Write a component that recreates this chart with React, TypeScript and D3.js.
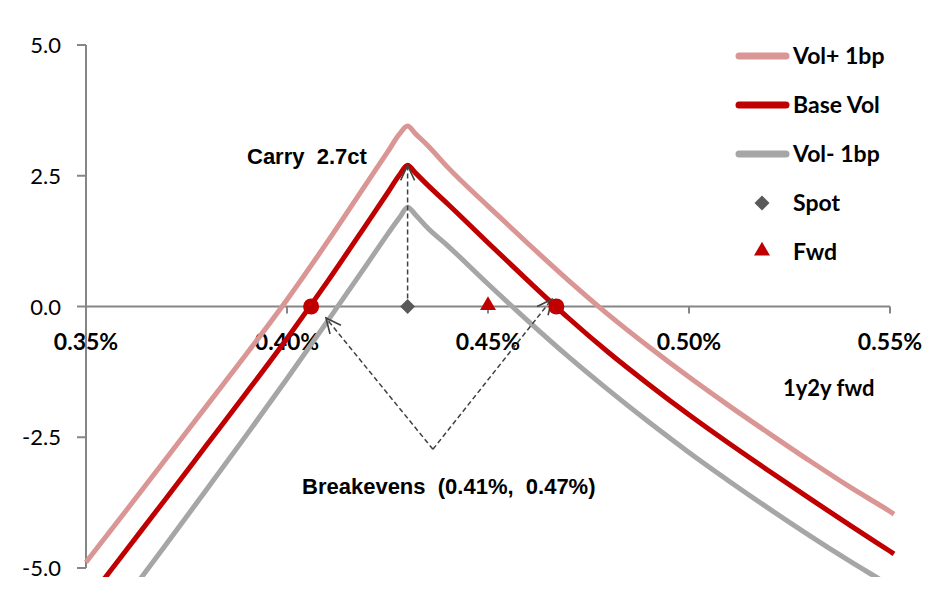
import * as d3 from "d3"

// x values (% rate, 1y2y fwd) shared by the three P&L curves
const rates = [0.35, 0.36, 0.37, 0.38, 0.39, 0.4, 0.41, 0.42, 0.425, 0.428, 0.43, 0.432, 0.435, 0.44, 0.45, 0.46, 0.47, 0.48, 0.49, 0.5, 0.51, 0.52, 0.53, 0.54, 0.55, 0.551]
const volUp = [-4.89, -3.9, -2.9, -1.9, -0.9, 0.13, 1.23, 2.38, 2.95, 3.3, 3.45, 3.3, 3.08, 2.66, 1.92, 1.2, 0.5, -0.16, -0.77, -1.35, -1.9, -2.43, -2.95, -3.45, -3.92, -3.97]
const baseVol = [-5.66, -4.66, -3.66, -2.65, -1.64, -0.61, 0.47, 1.6, 2.17, 2.52, 2.7, 2.55, 2.32, 1.96, 1.22, 0.49, -0.22, -0.88, -1.49, -2.07, -2.62, -3.15, -3.67, -4.18, -4.68, -4.73]
const volDown = [-6.6, -5.57, -4.54, -3.5, -2.45, -1.38, -0.29, 0.82, 1.38, 1.7, 1.9, 1.75, 1.5, 1.16, 0.43, -0.28, -0.96, -1.6, -2.21, -2.79, -3.34, -3.87, -4.38, -4.87, -5.34, -5.39]

const spotRate = 0.43
const fwdRate = 0.45
const breakevens = [0.406, 0.467]
const carry = 2.7

const xTicks = [0.35, 0.4, 0.45, 0.5, 0.55]
const yTicks = [5, 2.5, 0, -2.5, -5]

// annotation anchors in data units
const bePivot = { x: 0.4363, y: -2.73 }
const beTips = [
  { x: 0.4097, y: -0.22 },
  { x: 0.4659, y: 0.14 },
]

const series = [
  { name: "Vol+ 1bp", values: volUp, color: "#D99694" },
  { name: "Base Vol", values: baseVol, color: "#C00000" },
  { name: "Vol- 1bp", values: volDown, color: "#A6A6A6" },
]

const W = 928
const H = 600
const AXIS = "#868686"
const DASH = "#404040"
const CAL = "Lato, 'Liberation Sans', sans-serif"
const ARIAL = "'Liberation Sans', Arial, sans-serif"

export default function App() {
  const x = d3.scaleLinear().domain([0.35, 0.55]).range([86, 890])
  const y = d3.scaleLinear().domain([-5, 5]).range([568, 45])
  const y0 = y(0)

  const line = d3
    .line<number>()
    .x((_, i) => x(rates[i]))
    .y((d) => y(d))
    .curve(d3.curveMonotoneX)

  const diamond = d3.symbol(d3.symbolSquare, 112)()
  const triangle = d3.symbol(d3.symbolTriangle, 110)()

  const legendX = 736
  const legendY0 = 56
  const legendStep = 49

  return (
    <div style={{ position: "absolute", left: 0, top: 0 }}>
      <svg width={W} height={H} style={{ display: "block", background: "#fff" }}>
        <defs>
          <clipPath id="plot">
            <rect x={60} y={30} width={845} height={547} />
          </clipPath>
          <marker id="arr" viewBox="0 0 18 18" refX={16} refY={8} markerWidth={18} markerHeight={18} markerUnits="userSpaceOnUse" orient="auto">
            <path d="M1,1 L16,8 L1,15" fill="none" stroke={DASH} strokeWidth={1.6} />
          </marker>
        </defs>

        {/* y axis */}
        <line x1={86} x2={86} y1={y(5)} y2={y(-5)} stroke={AXIS} strokeWidth={2} />
        {yTicks.map((t) => (
          <g key={t}>
            <line x1={77} x2={86} y1={y(t)} y2={y(t)} stroke={AXIS} strokeWidth={2} />
            <text x={61} y={y(t) + 8} textAnchor="end" fontFamily={CAL} fontSize={22} fill="#000">
              {t.toFixed(1)}
            </text>
          </g>
        ))}

        {/* x axis through zero */}
        <line x1={86} x2={x(0.55)} y1={y0} y2={y0} stroke={AXIS} strokeWidth={2} />
        {xTicks.map((t) => (
          <g key={t}>
            <line x1={x(t)} x2={x(t)} y1={y0} y2={y0 + 7} stroke={AXIS} strokeWidth={2} />
            <text x={x(t)} y={350} textAnchor="middle" fontFamily={CAL} fontWeight="bold" fontSize={23} fill="#000">
              {t.toFixed(2)}%
            </text>
          </g>
        ))}

        {/* curves */}
        <g clipPath="url(#plot)">
          {series.map((s) => (
            <path key={s.name} d={line(s.values) ?? ""} fill="none" stroke={s.color} strokeWidth={5} strokeLinejoin="round" />
          ))}
        </g>

        {/* carry arrow */}
        <line x1={x(spotRate)} x2={x(spotRate)} y1={y0} y2={y(carry)} stroke={DASH} strokeWidth={1.5} strokeDasharray="5,3" markerEnd="url(#arr)" />

        {/* breakeven arrows */}
        {beTips.map((t, i) => (
          <line key={i} x1={x(bePivot.x)} y1={y(bePivot.y)} x2={x(t.x)} y2={y(t.y)} stroke={DASH} strokeWidth={1.5} strokeDasharray="5,3" markerEnd="url(#arr)" />
        ))}

        {/* markers */}
        {breakevens.map((b) => (
          <circle key={b} cx={x(b)} cy={y0} r={8} fill="#C00000" />
        ))}
        <path d={diamond} transform={`translate(${x(spotRate)},${y0}) rotate(45)`} fill="#595959" />
        <path d={triangle} transform={`translate(${x(fwdRate)},${y0 - 1})`} fill="#C00000" />

        {/* annotations */}
        <text x={247} y={164} fontFamily={ARIAL} fontWeight="bold" fontSize={22} fill="#000" style={{ whiteSpace: "pre" }}>
          {"Carry  2.7ct"}
        </text>
        <text x={302} y={494} fontFamily={ARIAL} fontWeight="bold" fontSize={22} fill="#000" style={{ whiteSpace: "pre" }}>
          {"Breakevens  (0.41%,  0.47%)"}
        </text>
        <text x={783} y={396} fontFamily={CAL} fontWeight="bold" fontSize={22} fill="#000">
          1y2y fwd
        </text>

        {/* legend */}
        {series.map((s, i) => (
          <g key={s.name} transform={`translate(0,${legendY0 + i * legendStep})`}>
            <line x1={legendX + 3} x2={legendX + 50} y1={0} y2={0} stroke={s.color} strokeWidth={7} strokeLinecap="round" />
            <text x={793} y={8} fontFamily={CAL} fontWeight="bold" fontSize={23} fill="#000">
              {s.name}
            </text>
          </g>
        ))}
        <g transform={`translate(0,${legendY0 + 3 * legendStep})`}>
          <path d={diamond} transform="translate(762,0) rotate(45)" fill="#595959" />
          <text x={793} y={8} fontFamily={CAL} fontWeight="bold" fontSize={23} fill="#000">
            Spot
          </text>
        </g>
        <g transform={`translate(0,${legendY0 + 4 * legendStep})`}>
          <path d={triangle} transform="translate(762,-1)" fill="#C00000" />
          <text x={793} y={8} fontFamily={CAL} fontWeight="bold" fontSize={23} fill="#000">
            Fwd
          </text>
        </g>
      </svg>
    </div>
  )
}
